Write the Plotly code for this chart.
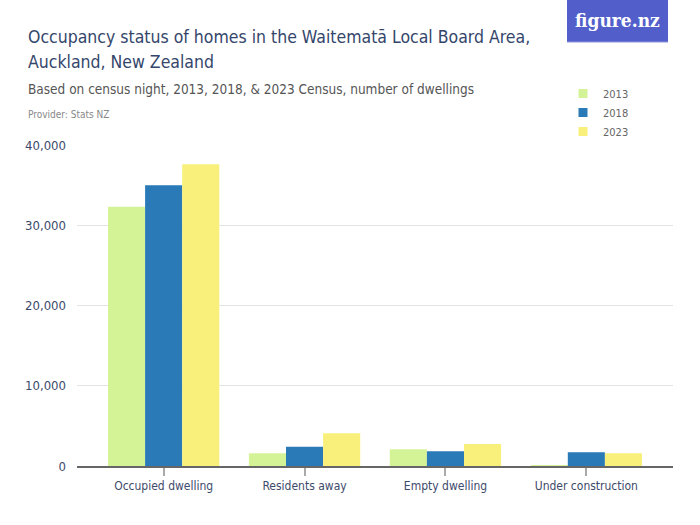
import plotly.graph_objects as go

categories = ["Occupied dwelling", "Residents away", "Empty dwelling", "Under construction"]
years = ["2013", "2018", "2023"]
values_2013 = [32300, 1600, 2100, 120]
values_2018 = [35000, 2400, 1830, 1700]
values_2023 = [37600, 4070, 2740, 1580]
colors = ["#d4f296", "#2a7ab8", "#f8f07a"]

L, R, T, B = 77, 27, 145, 59
W, H = 700, 525
pw, ph = W - L - R, H - T - B

def px(x):
    return (x - L) / pw

def py(y):
    return (H - B - y) / ph

fig = go.Figure()
for name, vals, c in zip(years, [values_2013, values_2018, values_2023], colors):
    fig.add_trace(go.Bar(x=categories, y=vals, name=name, showlegend=False,
                         marker=dict(color=c, line=dict(width=0))))
for name, c in zip(years, colors):
    fig.add_trace(go.Scatter(x=[None], y=[None], mode="markers", name=name,
                             marker=dict(symbol="square", size=9, color=c)))

font = "DejaVu Sans Condensed, Liberation Sans Narrow, Roboto, sans-serif"
fig.update_layout(
    width=W, height=H,
    margin=dict(l=L, r=R, t=T, b=B, autoexpand=False),
    paper_bgcolor="white", plot_bgcolor="white",
    barmode="group", bargap=0.21, bargroupgap=0,
    font=dict(family=font, color="#3d4a6b"),
    showlegend=True,
    legend=dict(x=px(563), y=py(79), xanchor="left", yanchor="top",
                font=dict(size=11, color="#666666"), itemwidth=30,
                tracegroupgap=0, bgcolor="rgba(0,0,0,0)"),
    xaxis=dict(range=[-0.615, 3.615], showgrid=False, showline=True, linecolor="#666666", linewidth=1.5,
               ticks="outside", ticklen=8, tickcolor="#aaaaaa", tickwidth=2,
               tickfont=dict(size=12, color="#3d4a6b")),
    yaxis=dict(range=[0, 40000], tickvals=[0, 10000, 20000, 30000, 40000],
               ticktext=["0", "10,000", "20,000", "30,000", "40,000"],
               showgrid=True, gridcolor="#e3e3e3", gridwidth=1, zeroline=False,
               ticks="", ticklabelstandoff=10,
               tickfont=dict(size=13, color="#3d4a6b")),
)

fig.add_shape(type="rect", xref="paper", yref="paper",
              x0=px(567), x1=px(668), y0=py(42), y1=py(0),
              fillcolor="#525fcb", line=dict(width=0), layer="below")
fig.add_shape(type="line", xref="paper", yref="paper",
              x0=px(567), x1=px(668), y0=py(42), y1=py(42),
              line=dict(color="#8e96dd", width=1))
fig.add_annotation(text="<b>figure.nz</b>", xref="paper", yref="paper", x=px(617), y=py(20),
                   xanchor="center", yanchor="middle",
                   showarrow=False, font=dict(family="DejaVu Serif Condensed, DejaVu Serif, serif", size=19, color="white"))

def ann(text, y, size, color):
    fig.add_annotation(text=text, xref="paper", yref="paper",
                       x=px(26), y=py(y), xanchor="left", yanchor="middle", showarrow=False,
                       font=dict(family=font, size=size, color=color))

ann("Occupancy status of homes in the Waitematā Local Board Area,", 37, 17.5, "#34466b")
ann("Auckland, New Zealand", 62, 17.5, "#34466b")
ann("Based on census night, 2013, 2018, & 2023 Census, number of dwellings", 89, 13.5, "#555555")
ann("Provider: Stats NZ", 114, 10, "#888888")

fig.write_html("out.html")
